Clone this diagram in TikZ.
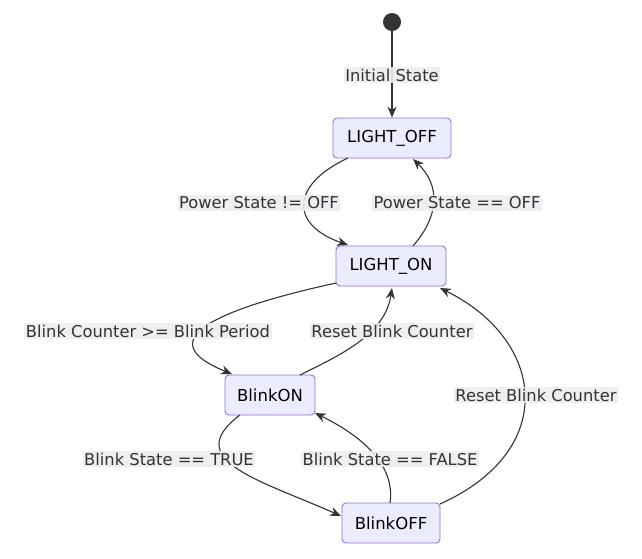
\documentclass[tikz,border=0pt]{standalone}
\usepackage{fontspec}
\setmainfont{DejaVu Sans}
\usetikzlibrary{arrows.meta}
\definecolor{boxfill}{HTML}{ECECFF}
\definecolor{boxline}{HTML}{9370DB}
\definecolor{lblbg}{HTML}{EDEDF2}
\definecolor{edge}{HTML}{333333}
\begin{document}
\begin{tikzpicture}[x=1pt,y=-1pt,
  st/.style={draw=boxline,fill=boxfill,rounded corners=4pt,line width=0.9pt,minimum height=40pt,inner xsep=9pt,font=\fontsize{16.5}{19}\selectfont,text=black},
  lbl/.style={fill=lblbg,fill opacity=0.9,text opacity=1,inner sep=1.5pt,font=\fontsize{16.3}{19}\selectfont,text=edge},
  ed/.style={draw=edge,line width=1.1pt,-{Stealth[length=11pt,width=9pt]}}]
\useasboundingbox (0,0) rectangle (642,558);
\fill[white] (0,0) rectangle (642,558);
\node[circle,fill=edge,minimum size=18pt,inner sep=0] (s) at (392,22) {};
\node[st,minimum width=118pt] (off) at (392,138) {LIGHT\_OFF};
\node[st,minimum width=110pt] (on) at (391,266) {LIGHT\_ON};
\node[st,minimum width=90pt] (bon) at (270,395) {BlinkON};
\node[st,minimum width=98pt] (boff) at (391,523) {BlinkOFF};
\coordinate (offbl) at (348,158);
\coordinate (offbr) at (413,159);
\coordinate (ontl) at (348,245);
\coordinate (ontr) at (413,246);
\coordinate (onbl) at (336,283);
\coordinate (onb) at (392,288);
\coordinate (onbr) at (440,288);
\coordinate (bontl) at (232,374);
\coordinate (bontr) at (300,375);
\coordinate (bonbl) at (240,415);
\coordinate (bonbr) at (315,413);
\coordinate (bofl) at (341,516);
\coordinate (boft) at (390,503);
\coordinate (bofr) at (440,504);
\draw[ed] (s) -- (off);
\draw[ed] (offbl) .. controls (290,185) and (290,225) .. (ontl);
\draw[ed] (ontr) .. controls (440,215) and (440,185) .. (offbr);
\draw[ed] (onbl) .. controls (190,315) and (160,345) .. (bontl);
\draw[ed] (bontr) .. controls (340,355) and (385,335) .. (onb);
\draw[ed] (bonbl) .. controls (180,460) and (260,480) .. (bofl);
\draw[ed] (boft) .. controls (395,470) and (370,440) .. (bonbr);
\draw[ed] (bofr) .. controls (560,450) and (545,340) .. (onbr);
\node[lbl] at (392,75) {Initial State};
\node[lbl] at (259,203) {Power State != OFF};
\node[lbl] at (457,203) {Power State == OFF};
\node[lbl] at (148,331) {Blink Counter >= Blink Period};
\node[lbl] at (392,331) {Reset Blink Counter};
\node[lbl] at (536,395) {Reset Blink Counter};
\node[lbl] at (169,459) {Blink State == TRUE};
\node[lbl] at (390,459) {Blink State == FALSE};
\end{tikzpicture}
\end{document}
